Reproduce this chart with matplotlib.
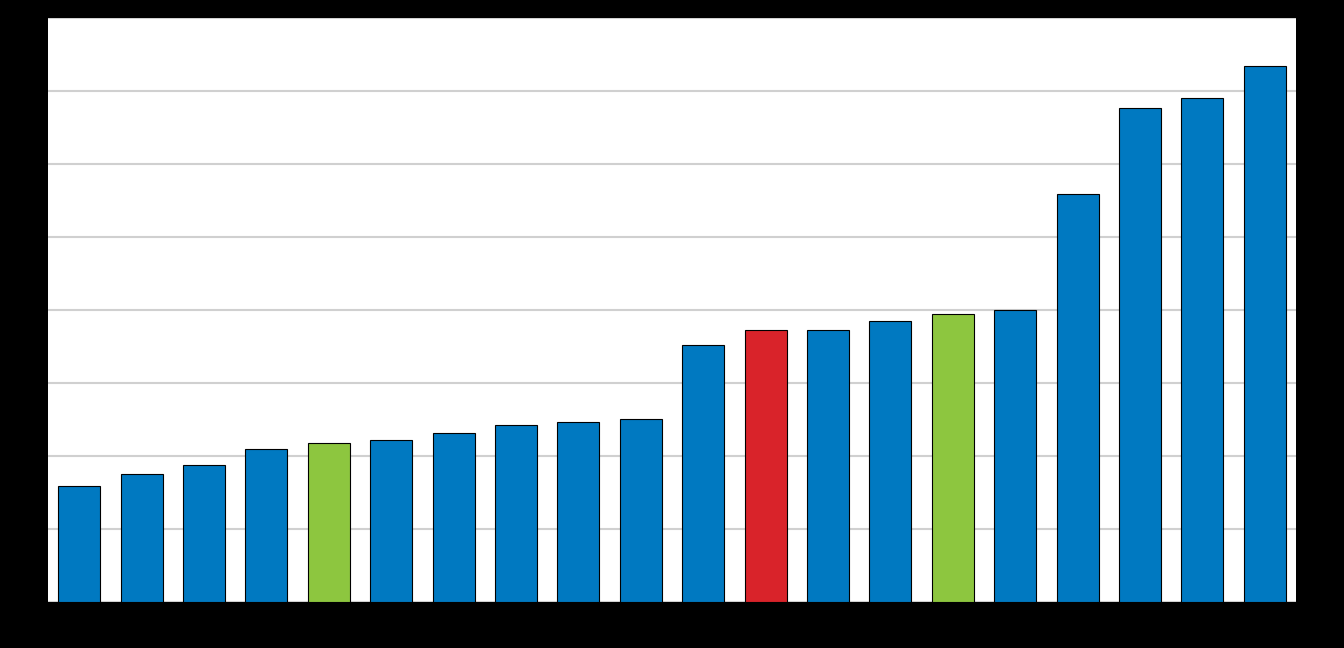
import matplotlib.pyplot as plt

values = [7.95, 8.77, 9.38, 10.48, 10.89, 11.10, 11.58, 12.12, 12.33, 12.53,
          17.6, 18.63, 18.63, 19.25, 19.73, 20.0, 27.95, 33.84, 34.52, 36.71]
highlight = {4: "#8DC63F", 14: "#8DC63F", 11: "#D9232A"}

colors = [highlight.get(i, "#0079C1") for i in range(len(values))]

fig = plt.figure(figsize=(13.44, 6.48), dpi=100, facecolor="black")
ax = fig.add_axes([48/1344, 46/648, 1248/1344, 584/648])
ax.set_facecolor("white")
ax.bar(range(len(values)), values, width=0.67, color=colors, edgecolor="black", linewidth=0.8, zorder=3)
ax.set_xlim(-0.5, len(values) - 0.5)
ax.set_ylim(0, 40)
ax.set_yticks(range(0, 41, 5))
ax.grid(axis="y", color="#d0d0d0", linewidth=1.5, zorder=0)
ax.tick_params(length=0, colors="black")
ax.set_xticks([])
for s in ax.spines.values():
    s.set_visible(False)
fig.savefig("out.png", facecolor="black")
